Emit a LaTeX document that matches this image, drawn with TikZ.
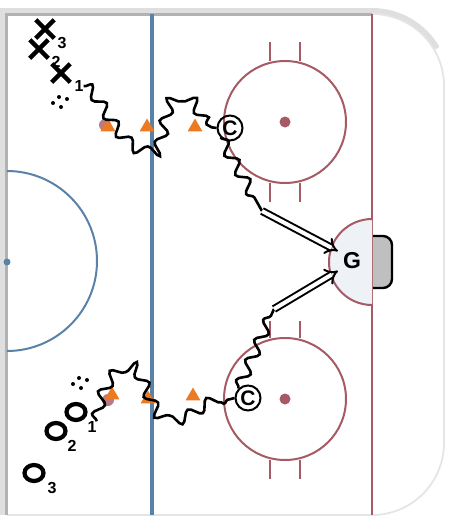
\documentclass[tikz,border=0pt]{standalone}
\usepackage{fontspec}
\setmainfont{Liberation Sans}
\usetikzlibrary{positioning,shapes.geometric,shapes.misc,decorations.pathmorphing,arrows.meta}
\definecolor{blueline}{HTML}{5A82A8}
\definecolor{redline}{HTML}{A65A64}
\definecolor{conecol}{HTML}{EC7A22}
\definecolor{creasecol}{HTML}{EEF1F6}

\begin{document}
\begin{tikzpicture}[x=1pt,y=-1pt]
  \tikzstyle{x player}=[cross out,draw,line width=4.5pt,minimum size=14pt,inner sep=0]
  \tikzstyle{o player}=[ellipse,draw,line width=4.2pt,minimum width=19pt,minimum height=16pt,inner sep=0]
  \tikzset{
num/.style={font=\bfseries\fontsize{16}{16}\selectfont,inner sep=0},
cone node/.style={regular polygon,regular polygon sides=3,fill=conecol,inner sep=0,minimum size=17pt},
coach node/.style={circle,draw,line width=2pt,inner sep=0,minimum size=25pt,font=\bfseries\fontsize{21}{21}\selectfont},
skate/.style={line width=2.6pt,decorate,decoration={snake,amplitude=5.5pt,segment length=22pt,post length=5pt}},
pass/.style={double,double distance=4pt,line width=2pt,-{Implies}},
hash/.style={redline,line width=1.8pt}
}
  \useasboundingbox (0,0) rectangle (455,525);
  % boards
  \draw[gray!25,line width=7pt] (4,515) -- (4,11) -- (372,11);
  \draw[gray!25,line width=6pt] (372,11) arc[start angle=-90,end angle=-30,radius=75];
  \draw[gray!20,line width=1.8pt] (7,14) -- (372,14) arc[start angle=-90,end angle=0,radius=72]
    -- (444,443) arc[start angle=0,end angle=90,radius=72] -- (7,515);
  \draw[gray!60,line width=3pt] (6,515) -- (6,14) -- (372,14);
  % lines
  \draw[blueline,line width=3.8pt] (152,14) -- (152,515);
  \draw[redline,line width=2.2pt] (372,14) -- (372,515);
  \draw[blueline,line width=2pt] (7,171) arc[start angle=-90,end angle=90,radius=90];
  \fill[blueline] (7,262) circle (3.5pt);
  % faceoff circles
  \foreach \cy/\up/\down in {122/42/202,399/321/479}{
    \draw[redline,line width=2pt] (285,\cy) circle (61pt);
    \fill[redline] (285,\cy) circle (5.5pt);
    \foreach \hx in {270,300}{
      \draw[hash] (\hx,\up) -- (\hx,\cy-61);
      \draw[hash] (\hx,\cy+61) -- (\hx,\down);
    }
  }
  % crease and net
  \filldraw[fill=creasecol,draw=redline,line width=2pt] (372,219) arc[start angle=-90,end angle=-270,radius=43];
  \draw[fill=gray!50,line width=2.4pt,rounded corners=9pt] (373,236) -- (392,236) -- (392,288) -- (373,288);
  \node[circle,minimum size=34pt,inner sep=0,font=\bfseries\fontsize{23}{23}\selectfont] (G) at (352,261) {G};
  % players
  \node[x player] (X3) at (45,29) {};
  \node[num] (X3n) at (62,43) {3};
  \node[x player] (X2) at (39,49) {};
  \node[num] (X2n) at (56,62) {2};
  \node[x player] (X1) at (61,73) {};
  \node[num] (X1n) at (79,86) {1};
  \node[o player] (O1) at (76,412) {};
  \node[num] (O1n) at (92,427) {1};
  \node[o player] (O2) at (56,431) {};
  \node[num] (O2n) at (72,446) {2};
  \node[o player] (O3) at (34,473) {};
  \node[num] (O3n) at (52,488) {3};
  % pucks
  \foreach \px/\py in {60/101,80/382}{
    \foreach \dx/\dy in {-7/2,-1/-4,7/-2,1/6}
      \fill (\px+\dx,\py+\dy) circle (2pt);
  }
  % cones
  \fill[redline,opacity=.8] (105,125) circle (6pt);
  \fill[redline,opacity=.8] (108,400) circle (6pt);
  \node[cone node] (k1) at (108,127) {};
  \node[cone node] (k2) at (147,127) {};
  \node[cone node] (k3) at (195,127) {};
  \node[cone node] (k4) at (112,395) {};
  \node[cone node] (k5) at (148,399) {};
  \node[cone node] (k6) at (193,396) {};
  % coaches
  \node[coach node] (C1) at (230,128) {C};
  \node[coach node] (C2) at (248,398) {C};
  \coordinate (w1) at (262,211);
  \coordinate (w2) at (274,309);
  % skating
  \draw[skate] (X1n.east) .. controls (100,95) and (115,150) .. (148,150)
    .. controls (165,150) and (160,90) .. (178,90) .. controls (195,90) and (200,130) .. (C1.west);
  \draw[skate] (C1.south west) -- (w1);
  \draw[skate] (O1n.north east) .. controls (100,395) and (115,370) .. (128,372)
    .. controls (145,374) and (150,430) .. (170,428) .. controls (190,426) and (205,405) .. (C2.west);
  \draw[skate] (C2.north west) -- (w2);
  % passes
  \draw[pass] (w1) -- (G.145);
  \draw[pass] (w2) -- (G.215);
\end{tikzpicture}
\end{document}
